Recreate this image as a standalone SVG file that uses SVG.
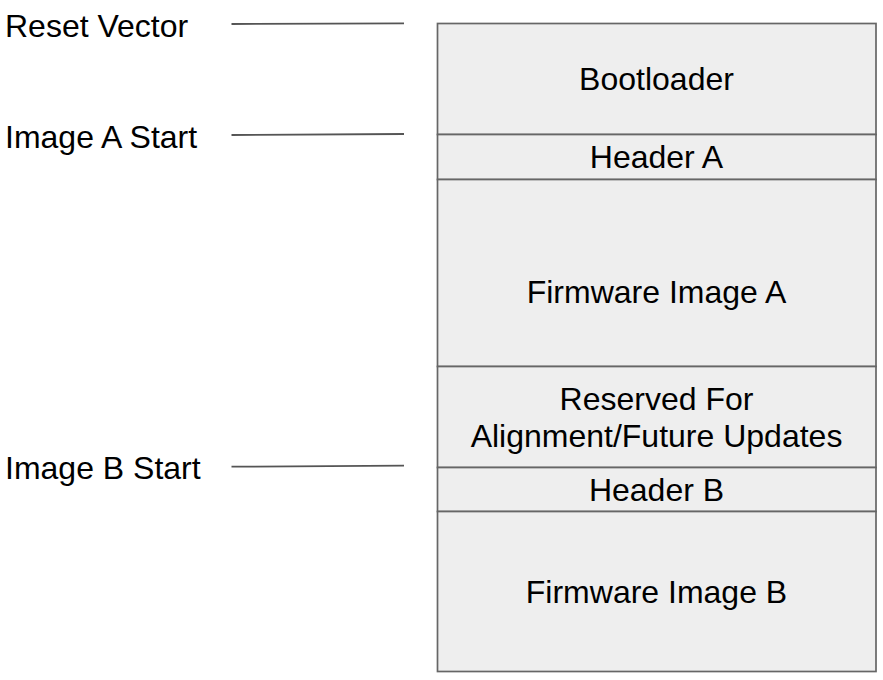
<svg xmlns="http://www.w3.org/2000/svg" width="883" height="680" viewBox="0 0 883 680">
<style>
.box{fill:#eeeeee;stroke:#666666;stroke-width:1.7}
.t{font-family:"Liberation Sans",Arial,sans-serif;font-size:32px;fill:#000}
.c{text-anchor:middle}
.ln{stroke:#555555;stroke-width:1.8;fill:none}
</style>
<rect width="883" height="680" fill="#fff"/>
<g id="bootloader"><rect class="box" x="437.5" y="23.5" width="438.5" height="111"/><text class="t c" x="656.5" y="89.5">Bootloader</text></g>
<g id="header-a"><rect class="box" x="437.5" y="134.5" width="438.5" height="45"/><text class="t c" x="656.5" y="168">Header A</text></g>
<g id="firmware-a"><rect class="box" x="437.5" y="179.5" width="438.5" height="187"/><text class="t c" x="656.5" y="302.5">Firmware Image A</text></g>
<g id="reserved"><rect class="box" x="437.5" y="366.5" width="438.5" height="101"/><text class="t c" x="656.5" y="410">Reserved For</text><text class="t c" x="656.5" y="446.5">Alignment/Future Updates</text></g>
<g id="header-b"><rect class="box" x="437.5" y="467.5" width="438.5" height="44"/><text class="t c" x="656.5" y="500.5">Header B</text></g>
<g id="firmware-b"><rect class="box" x="437.5" y="511.5" width="438.5" height="160"/><text class="t c" x="656.5" y="603">Firmware Image B</text></g>
<g id="label-reset"><text class="t" x="5" y="36.5">Reset Vector</text></g>
<g id="label-image-a"><text class="t" x="5" y="148">Image A Start</text></g>
<g id="label-image-b"><text class="t" x="5" y="479">Image B Start</text></g>
<g id="connectors">
<line class="ln" x1="231.5" y1="24" x2="404" y2="23.3"/>
<line class="ln" x1="231.5" y1="135" x2="404" y2="134"/>
<line class="ln" x1="231.5" y1="466.7" x2="404" y2="465.7"/>
</g>
</svg>
